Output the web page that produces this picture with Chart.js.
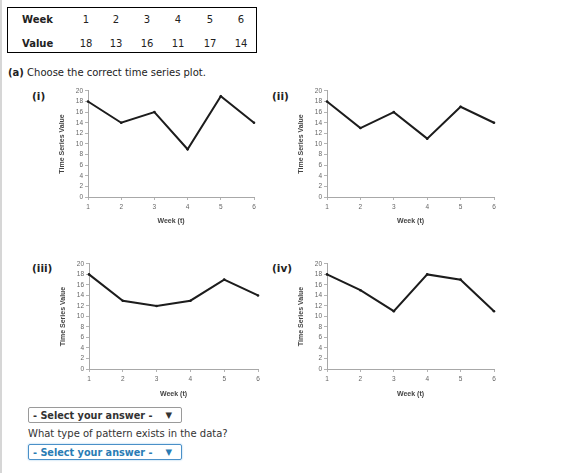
<!DOCTYPE html>
<html>
<head>
<meta charset="utf-8">
<script src="https://cdn.jsdelivr.net/npm/chart.js@4.4.0/dist/chart.umd.min.js"></script>
<style>
body { margin: 0; background: #fff; font-family: "DejaVu Sans", Verdana, sans-serif; color: #222; }
#page { position: relative; width: 581px; height: 473px; overflow: hidden; }
#edge { position: absolute; left: 0; top: 0; width: 2px; height: 473px; background: #d6d6d6; }
#table { position: absolute; left: 7px; top: 7px; width: 250px; height: 46px; border: 1px solid #000; box-sizing: border-box; }
.cell { position: absolute; transform: translate(-50%, -50%); font-size: 10px; white-space: nowrap; }
.head { position: absolute; transform: translateY(-50%); font-size: 10px; font-weight: bold; }
.txt { position: absolute; font-size: 10px; white-space: nowrap; transform: translateY(-50%); }
.lbl { position: absolute; font-size: 10.5px; font-weight: bold; transform: translateY(-50%); }
.box { position: absolute; left: 28px; width: 154px; height: 16px; box-sizing: border-box; border-radius: 2px; font-size: 9.7px; font-weight: bold; line-height: 15px; padding-left: 4px; white-space: nowrap; }
.box span { position: absolute; right: 9px; top: 0; font-size: 8.5px; }
.chart { position: absolute; }
</style>
</head>
<body>
<div id="page">
  <div id="edge"></div>
  <div id="table"></div>
  <div class="txt" style="left:8px; top:72px;"><b>(a)</b> Choose the correct time series plot.</div>
  <div class="lbl" style="left:32px; top:96px;">(i)</div>
  <div class="lbl" style="left:272px; top:96px;">(ii)</div>
  <div class="lbl" style="left:32px; top:268px;">(iii)</div>
  <div class="lbl" style="left:272px; top:268px;">(iv)</div>
  <div class="chart" style="left:50px; top:85px;"><canvas id="c1" width="210" height="145"></canvas></div>
  <div class="chart" style="left:289px; top:85px;"><canvas id="c2" width="211" height="145"></canvas></div>
  <div class="chart" style="left:51px; top:258px;"><canvas id="c3" width="213" height="145"></canvas></div>
  <div class="chart" style="left:289px; top:258px;"><canvas id="c4" width="211" height="145"></canvas></div>
  <div class="box" style="top:407px; border:1px solid #9a9a9a; color:#333;">- Select your answer -<span>&#9660;</span></div>
  <div class="txt" style="left:28px; top:433px; color:#333;">What type of pattern exists in the data?</div>
  <div class="box" style="top:444px; border:1px solid #4a90c8; color:#2a7cb4; box-shadow:0 0 2px #8cc0e8;">- Select your answer -<span>&#9660;</span></div>
</div>
<script>
const weeks = ["1", "2", "3", "4", "5", "6"];
const tableValues = [18, 13, 16, 11, 17, 14];
const plotI = [18, 14, 16, 9, 19, 14];
const plotII = [18, 13, 16, 11, 17, 14];
const plotIII = [18, 13, 12, 13, 17, 14];
const plotIV = [18, 15, 11, 18, 17, 11];

// header table
const table = document.getElementById("table");
const colX = [78, 108, 139, 170, 202, 233];
let html = '<div class="head" style="left:14px; top:11px;">Week</div>';
html += '<div class="head" style="left:14px; top:35px;">Value</div>';
weeks.forEach((w, i) => {
  html += `<div class="cell" style="left:${colX[i]}px; top:11px;">${w}</div>`;
  html += `<div class="cell" style="left:${colX[i]}px; top:35px;">${tableValues[i]}</div>`;
});
table.innerHTML = html;

const tickFont = { size: 6.5, family: "Liberation Sans" };
const titleFont = { size: 7, weight: "bold", family: "Liberation Sans" };

const makeChart = (id, values, xHeight) => {
  new Chart(document.getElementById(id), {
    type: "line",
    data: {
      labels: weeks,
      datasets: [
        {
          data: values,
          borderColor: "#1c1c1c",
          borderWidth: 2,
          pointRadius: 1.3,
          pointBackgroundColor: "#1c1c1c",
          pointBorderWidth: 0,
          tension: 0,
        },
      ],
    },
    options: {
      responsive: false,
      animation: false,
      layout: { padding: { top: 4.2, right: 6, left: 0, bottom: 0 } },
      plugins: { legend: { display: false }, tooltip: { enabled: false } },
      scales: {
        x: {
          offset: false,
          grid: { drawOnChartArea: false, tickLength: 3, color: "#b4b4b4" },
          border: { color: "#a8a8a8" },
          ticks: { font: tickFont, color: "#666", padding: 3, maxRotation: 0, autoSkip: false },
          title: { display: true, text: "Week (t)", font: titleFont, color: "#444", padding: { top: 0, bottom: 5 } },
          afterFit: (s) => { s.height = xHeight; },
        },
        y: {
          min: 0,
          max: 20,
          grid: { drawOnChartArea: false, tickLength: 3, color: "#b4b4b4" },
          border: { color: "#a8a8a8" },
          ticks: { stepSize: 2, font: tickFont, color: "#666", padding: 2, autoSkip: false },
          title: { display: true, text: "Time Series Value", font: titleFont, color: "#444", padding: { top: 8, bottom: 0 } },
          afterFit: (s) => { s.width = 38; },
        },
      },
    },
  });
};

makeChart("c1", plotI, 33);
makeChart("c2", plotII, 33);
makeChart("c3", plotIII, 34);
makeChart("c4", plotIV, 34);
</script>
</body>
</html>
